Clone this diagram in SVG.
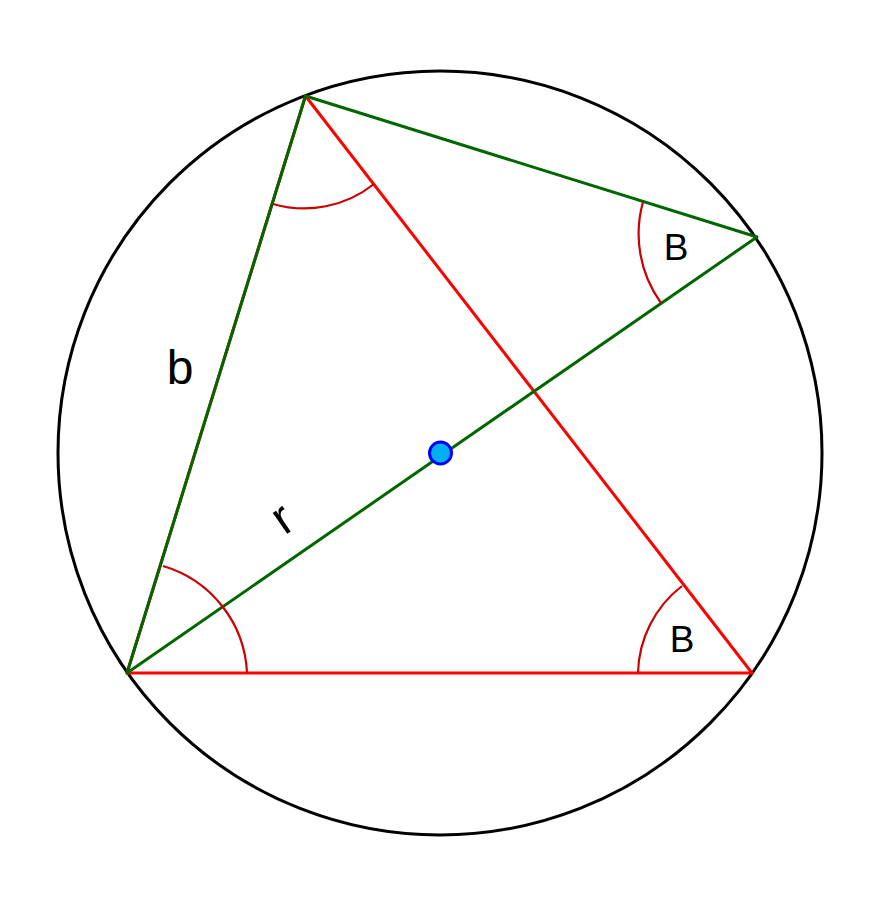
<svg xmlns="http://www.w3.org/2000/svg" width="896" height="898" viewBox="0 0 896 898">
<style>
.circ{fill:none;stroke:#000;stroke-width:3}
.red{fill:none;stroke:#ff0000;stroke-width:3;stroke-linejoin:round}
.grn{fill:none;stroke:#006600;stroke-width:3;stroke-linejoin:round}
.arc{fill:none;stroke:#cc0000;stroke-width:2.2}
.lbl{font-family:"Liberation Sans",Arial,sans-serif;fill:#000}
</style>
<rect width="896" height="898" fill="#fff"/>
<g id="circumcircle"><circle class="circ" cx="440" cy="453" r="382"/></g>
<g id="connectors">
<polygon id="triangle-red" class="red" points="305.5,96 127,673 752,673"/>
<polygon id="triangle-green" class="grn" points="305.5,96 127,673 757,237"/>
</g>
<g id="angles">
<path class="arc" d="M273,204 A112,112 0 0 0 374,184"/>
<path class="arc" d="M643,202 A118,118 0 0 0 661,303"/>
<path class="arc" d="M163,566 A117,117 0 0 1 247,673"/>
<path class="arc" d="M638,673 A113,113 0 0 1 682,586"/>
</g>
<g id="center"><circle cx="440.5" cy="453" r="11" fill="#00b0f0" stroke="#0000ff" stroke-width="3"/></g>
<g id="labels">
<text class="lbl" x="180" y="384" font-size="48" text-anchor="middle">b</text>
<text class="lbl" transform="translate(284,521) rotate(-34.7)" x="0" y="12.5" font-size="48" text-anchor="middle">r</text>
<text class="lbl" x="676" y="260" font-size="37" text-anchor="middle">B</text>
<text class="lbl" x="682" y="652" font-size="37" text-anchor="middle">B</text>
</g>
</svg>
